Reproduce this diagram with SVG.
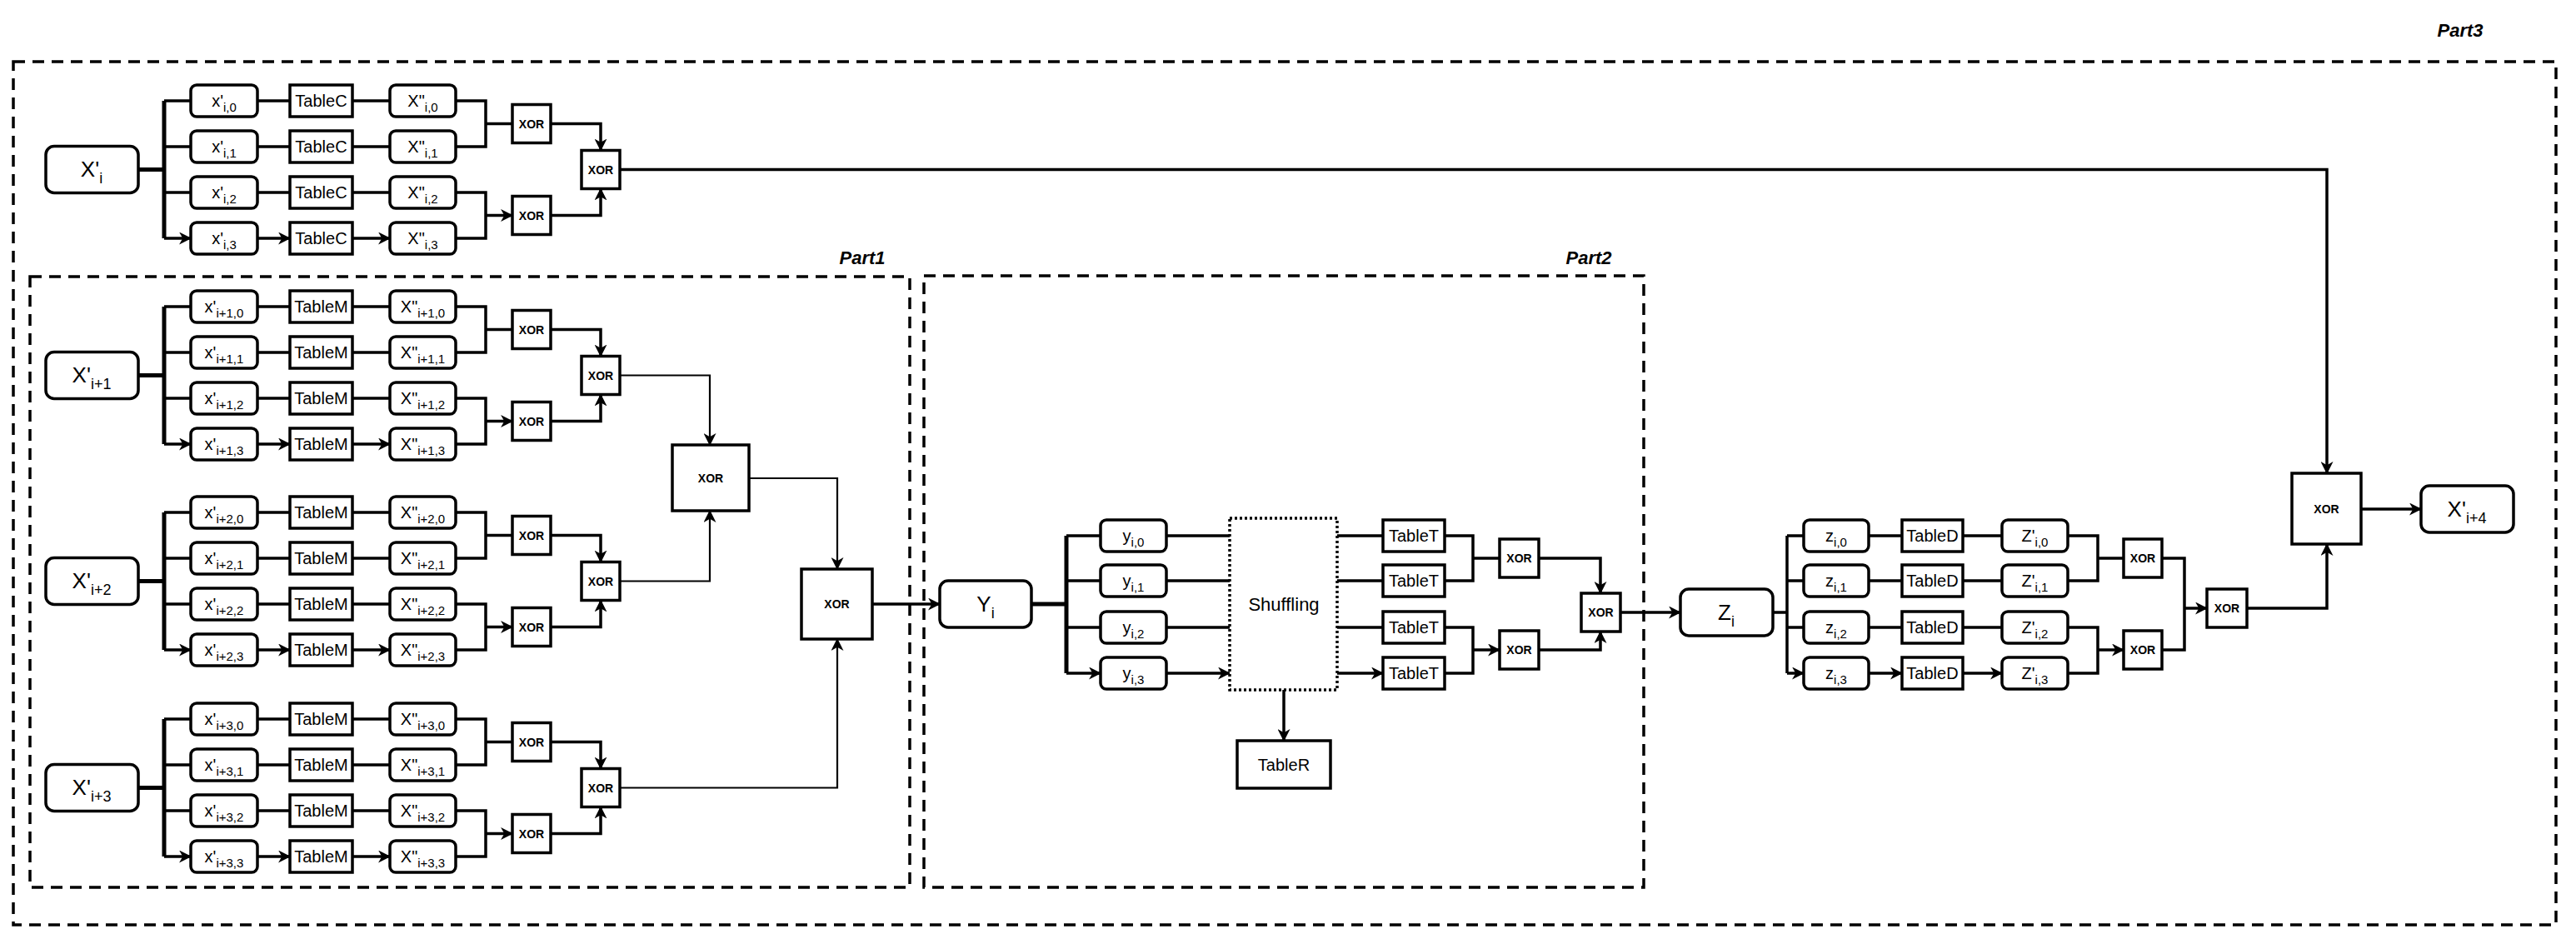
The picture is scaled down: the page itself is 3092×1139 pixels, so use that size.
<svg xmlns="http://www.w3.org/2000/svg" width="3092" height="1139" viewBox="0 0 3092 1139">
<style>
text{font-family:"Liberation Sans",Arial,sans-serif;fill:#000;text-anchor:middle}
.r{fill:#fff;stroke:#000;stroke-width:3.5}
.s{fill:#fff;stroke:#000;stroke-width:3.5}
.d{fill:none;stroke:#000;stroke-width:3.5;stroke-dasharray:14 9}
.sh{fill:#fff;stroke:#000;stroke-width:3.5;stroke-dasharray:3 3}
.t{font-size:20px}
.b{font-size:26px}
.x{font-size:14px;font-weight:bold}
.p{font-size:22px;font-weight:bold;font-style:italic}
.c{fill:none;stroke:#000;stroke-width:3.5}
.h{fill:none;stroke:#000;stroke-width:5}
.n{fill:none;stroke:#000;stroke-width:2.2}
</style>
<defs>
<marker id="a" viewBox="0 0 14 14" refX="13" refY="7" markerWidth="15" markerHeight="15" markerUnits="userSpaceOnUse" orient="auto"><path d="M0,0 L14,7 L0,14 L4,7 z"/></marker>
</defs>
<g id="frames">
<rect class="d" x="16" y="74" width="3052" height="1036"/>
<rect class="d" x="36" y="332" width="1056" height="733"/>
<rect class="d" x="1109" y="331" width="864" height="734"/>
<text class="p" x="2953" y="44">Part3</text>
<text class="p" x="1035" y="317">Part1</text>
<text class="p" x="1907" y="317">Part2</text>
</g>
<g id="connectors">
<!-- G0 -->
<path class="h" d="M166,203.5H197M197,121V286"/>
<path class="c" marker-end="url(#a)" d="M197,121H229M197,176H229M197,231H229M197,286H229"/>
<path class="c" marker-end="url(#a)" d="M309,121H348M309,176H348M309,231H348M309,286H348"/>
<path class="c" marker-end="url(#a)" d="M423,121H468M423,176H468M423,231H468M423,286H468"/>
<path class="c" d="M547,121H583V176H547M547,231H583V286H547"/>
<path class="c" marker-end="url(#a)" d="M583,148.5H615M583,258.5H615"/>
<path class="c" marker-end="url(#a)" d="M661,148.5H721V180.5"/>
<path class="c" marker-end="url(#a)" d="M661,258.5H721V226.5"/>
<!-- G1 -->
<path class="h" d="M166,450.5H197M197,368V533"/>
<path class="c" marker-end="url(#a)" d="M197,368H229M197,423H229M197,478H229M197,533H229"/>
<path class="c" marker-end="url(#a)" d="M309,368H348M309,423H348M309,478H348M309,533H348"/>
<path class="c" marker-end="url(#a)" d="M423,368H468M423,423H468M423,478H468M423,533H468"/>
<path class="c" d="M547,368H583V423H547M547,478H583V533H547"/>
<path class="c" marker-end="url(#a)" d="M583,395.5H615M583,505.5H615"/>
<path class="c" marker-end="url(#a)" d="M661,395.5H721V427.5"/>
<path class="c" marker-end="url(#a)" d="M661,505.5H721V473.5"/>
<!-- G2 -->
<path class="h" d="M166,697.5H197M197,615V780"/>
<path class="c" marker-end="url(#a)" d="M197,615H229M197,670H229M197,725H229M197,780H229"/>
<path class="c" marker-end="url(#a)" d="M309,615H348M309,670H348M309,725H348M309,780H348"/>
<path class="c" marker-end="url(#a)" d="M423,615H468M423,670H468M423,725H468M423,780H468"/>
<path class="c" d="M547,615H583V670H547M547,725H583V780H547"/>
<path class="c" marker-end="url(#a)" d="M583,642.5H615M583,752.5H615"/>
<path class="c" marker-end="url(#a)" d="M661,642.5H721V674.5"/>
<path class="c" marker-end="url(#a)" d="M661,752.5H721V720.5"/>
<!-- G3 -->
<path class="h" d="M166,945.5H197M197,863V1028"/>
<path class="c" marker-end="url(#a)" d="M197,863H229M197,918H229M197,973H229M197,1028H229"/>
<path class="c" marker-end="url(#a)" d="M309,863H348M309,918H348M309,973H348M309,1028H348"/>
<path class="c" marker-end="url(#a)" d="M423,863H468M423,918H468M423,973H468M423,1028H468"/>
<path class="c" d="M547,863H583V918H547M547,973H583V1028H547"/>
<path class="c" marker-end="url(#a)" d="M583,890.5H615M583,1000.5H615"/>
<path class="c" marker-end="url(#a)" d="M661,890.5H721V922.5"/>
<path class="c" marker-end="url(#a)" d="M661,1000.5H721V968.5"/>
<!-- Part1 combine -->
<path class="n" marker-end="url(#a)" d="M744,450.5H852V534"/>
<path class="n" marker-end="url(#a)" d="M744,697.5H852V613"/>
<path class="n" marker-end="url(#a)" d="M899,574H1005V683"/>
<path class="n" marker-end="url(#a)" d="M744,945.5H1005V767"/>
<path class="c" marker-end="url(#a)" d="M1047,725H1128"/>
<!-- Part2 -->
<path class="h" d="M1238,725H1280M1280,643V808"/>
<path class="c" marker-end="url(#a)" d="M1280,643H1321M1280,697H1321M1280,753H1321M1280,808H1321"/>
<path class="c" marker-end="url(#a)" d="M1400,643H1476M1400,697H1476M1400,753H1476M1400,808H1476"/>
<path class="c" marker-end="url(#a)" d="M1605,643H1660M1605,697H1660M1605,753H1660M1605,808H1660"/>
<path class="c" d="M1734,643H1768V697H1734M1734,753H1768V808H1734"/>
<path class="c" marker-end="url(#a)" d="M1768,670H1800M1768,780H1800"/>
<path class="c" marker-end="url(#a)" d="M1847,670H1921V712"/>
<path class="c" marker-end="url(#a)" d="M1847,780H1921V758"/>
<path class="c" marker-end="url(#a)" d="M1945,735H2017"/>
<path class="c" marker-end="url(#a)" d="M1541,828V889"/>
<!-- Part3 right -->
<path class="c" d="M2128,735H2145M2145,643V808"/>
<path class="c" marker-end="url(#a)" d="M2145,643H2165M2145,697H2165M2145,753H2165M2145,808H2165"/>
<path class="c" marker-end="url(#a)" d="M2243,643H2283M2243,697H2283M2243,753H2283M2243,808H2283"/>
<path class="c" marker-end="url(#a)" d="M2356,643H2403M2356,697H2403M2356,753H2403M2356,808H2403"/>
<path class="c" d="M2482,643H2518V697H2482M2482,753H2518V808H2482"/>
<path class="c" marker-end="url(#a)" d="M2518,670H2549M2518,780H2549"/>
<path class="c" d="M2595,670H2622V780H2595"/>
<path class="c" marker-end="url(#a)" d="M2622,730H2649"/>
<path class="c" marker-end="url(#a)" d="M2697,730H2793V653"/>
<path class="c" marker-end="url(#a)" d="M744,203.5H2793V568"/>
<path class="c" marker-end="url(#a)" d="M2834,611H2906"/>
</g>
<!-- G0 nodes -->
<g id="Xi"><rect class="r" x="55" y="175.5" width="111" height="56" rx="10"/><text class="b" x="110" y="212">X'<tspan font-size="18" dy="8">i</tspan></text></g>
<g id="x_i0"><rect class="r" x="229" y="102" width="80" height="38" rx="7"/><text class="t" x="269" y="128">x'<tspan font-size="15" dy="6">i,0</tspan></text></g>
<g id="x_i1"><rect class="r" x="229" y="157" width="80" height="38" rx="7"/><text class="t" x="269" y="183">x'<tspan font-size="15" dy="6">i,1</tspan></text></g>
<g id="x_i2"><rect class="r" x="229" y="212" width="80" height="38" rx="7"/><text class="t" x="269" y="238">x'<tspan font-size="15" dy="6">i,2</tspan></text></g>
<g id="x_i3"><rect class="r" x="229" y="267" width="80" height="38" rx="7"/><text class="t" x="269" y="293">x'<tspan font-size="15" dy="6">i,3</tspan></text></g>
<g id="TC0"><rect class="s" x="348" y="102" width="75" height="38"/><text class="t" x="385.5" y="128">TableC</text></g>
<g id="TC1"><rect class="s" x="348" y="157" width="75" height="38"/><text class="t" x="385.5" y="183">TableC</text></g>
<g id="TC2"><rect class="s" x="348" y="212" width="75" height="38"/><text class="t" x="385.5" y="238">TableC</text></g>
<g id="TC3"><rect class="s" x="348" y="267" width="75" height="38"/><text class="t" x="385.5" y="293">TableC</text></g>
<g id="X2_i0"><rect class="r" x="468" y="102" width="79" height="38" rx="7"/><text class="t" x="507.5" y="128">X"<tspan font-size="15" dy="6">i,0</tspan></text></g>
<g id="X2_i1"><rect class="r" x="468" y="157" width="79" height="38" rx="7"/><text class="t" x="507.5" y="183">X"<tspan font-size="15" dy="6">i,1</tspan></text></g>
<g id="X2_i2"><rect class="r" x="468" y="212" width="79" height="38" rx="7"/><text class="t" x="507.5" y="238">X"<tspan font-size="15" dy="6">i,2</tspan></text></g>
<g id="X2_i3"><rect class="r" x="468" y="267" width="79" height="38" rx="7"/><text class="t" x="507.5" y="293">X"<tspan font-size="15" dy="6">i,3</tspan></text></g>
<g id="xor0a"><rect class="s" x="615" y="125.5" width="46" height="46"/><text class="x" x="638" y="153.5">XOR</text></g>
<g id="xor0b"><rect class="s" x="615" y="235.5" width="46" height="46"/><text class="x" x="638" y="263.5">XOR</text></g>
<g id="xor0c"><rect class="s" x="698" y="180.5" width="46" height="46"/><text class="x" x="721" y="208.5">XOR</text></g>
<!-- G1 -->
<g id="Xi1"><rect class="r" x="55" y="422.5" width="111" height="56" rx="10"/><text class="b" x="110" y="459">X'<tspan font-size="18" dy="8">i+1</tspan></text></g>
<g id="x_10"><rect class="r" x="229" y="349" width="80" height="38" rx="7"/><text class="t" x="269" y="375">x'<tspan font-size="15" dy="6">i+1,0</tspan></text></g>
<g id="x_11"><rect class="r" x="229" y="404" width="80" height="38" rx="7"/><text class="t" x="269" y="430">x'<tspan font-size="15" dy="6">i+1,1</tspan></text></g>
<g id="x_12"><rect class="r" x="229" y="459" width="80" height="38" rx="7"/><text class="t" x="269" y="485">x'<tspan font-size="15" dy="6">i+1,2</tspan></text></g>
<g id="x_13"><rect class="r" x="229" y="514" width="80" height="38" rx="7"/><text class="t" x="269" y="540">x'<tspan font-size="15" dy="6">i+1,3</tspan></text></g>
<g id="TM10"><rect class="s" x="348" y="349" width="75" height="38"/><text class="t" x="385.5" y="375">TableM</text></g>
<g id="TM11"><rect class="s" x="348" y="404" width="75" height="38"/><text class="t" x="385.5" y="430">TableM</text></g>
<g id="TM12"><rect class="s" x="348" y="459" width="75" height="38"/><text class="t" x="385.5" y="485">TableM</text></g>
<g id="TM13"><rect class="s" x="348" y="514" width="75" height="38"/><text class="t" x="385.5" y="540">TableM</text></g>
<g id="X2_10"><rect class="r" x="468" y="349" width="79" height="38" rx="7"/><text class="t" x="507.5" y="375">X"<tspan font-size="15" dy="6">i+1,0</tspan></text></g>
<g id="X2_11"><rect class="r" x="468" y="404" width="79" height="38" rx="7"/><text class="t" x="507.5" y="430">X"<tspan font-size="15" dy="6">i+1,1</tspan></text></g>
<g id="X2_12"><rect class="r" x="468" y="459" width="79" height="38" rx="7"/><text class="t" x="507.5" y="485">X"<tspan font-size="15" dy="6">i+1,2</tspan></text></g>
<g id="X2_13"><rect class="r" x="468" y="514" width="79" height="38" rx="7"/><text class="t" x="507.5" y="540">X"<tspan font-size="15" dy="6">i+1,3</tspan></text></g>
<g id="xor1a"><rect class="s" x="615" y="372.5" width="46" height="46"/><text class="x" x="638" y="400.5">XOR</text></g>
<g id="xor1b"><rect class="s" x="615" y="482.5" width="46" height="46"/><text class="x" x="638" y="510.5">XOR</text></g>
<g id="xor1c"><rect class="s" x="698" y="427.5" width="46" height="46"/><text class="x" x="721" y="455.5">XOR</text></g>
<!-- G2 -->
<g id="Xi2"><rect class="r" x="55" y="669.5" width="111" height="56" rx="10"/><text class="b" x="110" y="706">X'<tspan font-size="18" dy="8">i+2</tspan></text></g>
<g id="x_20"><rect class="r" x="229" y="596" width="80" height="38" rx="7"/><text class="t" x="269" y="622">x'<tspan font-size="15" dy="6">i+2,0</tspan></text></g>
<g id="x_21"><rect class="r" x="229" y="651" width="80" height="38" rx="7"/><text class="t" x="269" y="677">x'<tspan font-size="15" dy="6">i+2,1</tspan></text></g>
<g id="x_22"><rect class="r" x="229" y="706" width="80" height="38" rx="7"/><text class="t" x="269" y="732">x'<tspan font-size="15" dy="6">i+2,2</tspan></text></g>
<g id="x_23"><rect class="r" x="229" y="761" width="80" height="38" rx="7"/><text class="t" x="269" y="787">x'<tspan font-size="15" dy="6">i+2,3</tspan></text></g>
<g id="TM20"><rect class="s" x="348" y="596" width="75" height="38"/><text class="t" x="385.5" y="622">TableM</text></g>
<g id="TM21"><rect class="s" x="348" y="651" width="75" height="38"/><text class="t" x="385.5" y="677">TableM</text></g>
<g id="TM22"><rect class="s" x="348" y="706" width="75" height="38"/><text class="t" x="385.5" y="732">TableM</text></g>
<g id="TM23"><rect class="s" x="348" y="761" width="75" height="38"/><text class="t" x="385.5" y="787">TableM</text></g>
<g id="X2_20"><rect class="r" x="468" y="596" width="79" height="38" rx="7"/><text class="t" x="507.5" y="622">X"<tspan font-size="15" dy="6">i+2,0</tspan></text></g>
<g id="X2_21"><rect class="r" x="468" y="651" width="79" height="38" rx="7"/><text class="t" x="507.5" y="677">X"<tspan font-size="15" dy="6">i+2,1</tspan></text></g>
<g id="X2_22"><rect class="r" x="468" y="706" width="79" height="38" rx="7"/><text class="t" x="507.5" y="732">X"<tspan font-size="15" dy="6">i+2,2</tspan></text></g>
<g id="X2_23"><rect class="r" x="468" y="761" width="79" height="38" rx="7"/><text class="t" x="507.5" y="787">X"<tspan font-size="15" dy="6">i+2,3</tspan></text></g>
<g id="xor2a"><rect class="s" x="615" y="619.5" width="46" height="46"/><text class="x" x="638" y="647.5">XOR</text></g>
<g id="xor2b"><rect class="s" x="615" y="729.5" width="46" height="46"/><text class="x" x="638" y="757.5">XOR</text></g>
<g id="xor2c"><rect class="s" x="698" y="674.5" width="46" height="46"/><text class="x" x="721" y="702.5">XOR</text></g>
<!-- G3 -->
<g id="Xi3"><rect class="r" x="55" y="917.5" width="111" height="56" rx="10"/><text class="b" x="110" y="954">X'<tspan font-size="18" dy="8">i+3</tspan></text></g>
<g id="x_30"><rect class="r" x="229" y="844" width="80" height="38" rx="7"/><text class="t" x="269" y="870">x'<tspan font-size="15" dy="6">i+3,0</tspan></text></g>
<g id="x_31"><rect class="r" x="229" y="899" width="80" height="38" rx="7"/><text class="t" x="269" y="925">x'<tspan font-size="15" dy="6">i+3,1</tspan></text></g>
<g id="x_32"><rect class="r" x="229" y="954" width="80" height="38" rx="7"/><text class="t" x="269" y="980">x'<tspan font-size="15" dy="6">i+3,2</tspan></text></g>
<g id="x_33"><rect class="r" x="229" y="1009" width="80" height="38" rx="7"/><text class="t" x="269" y="1035">x'<tspan font-size="15" dy="6">i+3,3</tspan></text></g>
<g id="TM30"><rect class="s" x="348" y="844" width="75" height="38"/><text class="t" x="385.5" y="870">TableM</text></g>
<g id="TM31"><rect class="s" x="348" y="899" width="75" height="38"/><text class="t" x="385.5" y="925">TableM</text></g>
<g id="TM32"><rect class="s" x="348" y="954" width="75" height="38"/><text class="t" x="385.5" y="980">TableM</text></g>
<g id="TM33"><rect class="s" x="348" y="1009" width="75" height="38"/><text class="t" x="385.5" y="1035">TableM</text></g>
<g id="X2_30"><rect class="r" x="468" y="844" width="79" height="38" rx="7"/><text class="t" x="507.5" y="870">X"<tspan font-size="15" dy="6">i+3,0</tspan></text></g>
<g id="X2_31"><rect class="r" x="468" y="899" width="79" height="38" rx="7"/><text class="t" x="507.5" y="925">X"<tspan font-size="15" dy="6">i+3,1</tspan></text></g>
<g id="X2_32"><rect class="r" x="468" y="954" width="79" height="38" rx="7"/><text class="t" x="507.5" y="980">X"<tspan font-size="15" dy="6">i+3,2</tspan></text></g>
<g id="X2_33"><rect class="r" x="468" y="1009" width="79" height="38" rx="7"/><text class="t" x="507.5" y="1035">X"<tspan font-size="15" dy="6">i+3,3</tspan></text></g>
<g id="xor3a"><rect class="s" x="615" y="867.5" width="46" height="46"/><text class="x" x="638" y="895.5">XOR</text></g>
<g id="xor3b"><rect class="s" x="615" y="977.5" width="46" height="46"/><text class="x" x="638" y="1005.5">XOR</text></g>
<g id="xor3c"><rect class="s" x="698" y="922.5" width="46" height="46"/><text class="x" x="721" y="950.5">XOR</text></g>
<!-- Part1 combine -->
<g id="xorP1a"><rect class="s" x="807" y="534" width="92" height="79"/><text class="x" x="853" y="579">XOR</text></g>
<g id="xorP1b"><rect class="s" x="962" y="683" width="85" height="84"/><text class="x" x="1004.5" y="730">XOR</text></g>
<!-- Part2 -->
<g id="Yi"><rect class="r" x="1128" y="697" width="110" height="56" rx="10"/><text class="b" x="1183" y="734">Y<tspan font-size="18" dy="8">i</tspan></text></g>
<g id="y0"><rect class="r" x="1321" y="624" width="79" height="38" rx="7"/><text class="t" x="1360.5" y="650">y<tspan font-size="15" dy="6">i,0</tspan></text></g>
<g id="y1"><rect class="r" x="1321" y="678" width="79" height="38" rx="7"/><text class="t" x="1360.5" y="704">y<tspan font-size="15" dy="6">i,1</tspan></text></g>
<g id="y2"><rect class="r" x="1321" y="734" width="79" height="38" rx="7"/><text class="t" x="1360.5" y="760">y<tspan font-size="15" dy="6">i,2</tspan></text></g>
<g id="y3"><rect class="r" x="1321" y="789" width="79" height="38" rx="7"/><text class="t" x="1360.5" y="815">y<tspan font-size="15" dy="6">i,3</tspan></text></g>
<g id="shuffling"><rect class="sh" x="1476" y="622" width="129" height="206"/><text x="1541" y="733" font-size="22">Shuffling</text></g>
<g id="TT0"><rect class="s" x="1660" y="624" width="74" height="38"/><text class="t" x="1697" y="650">TableT</text></g>
<g id="TT1"><rect class="s" x="1660" y="678" width="74" height="38"/><text class="t" x="1697" y="704">TableT</text></g>
<g id="TT2"><rect class="s" x="1660" y="734" width="74" height="38"/><text class="t" x="1697" y="760">TableT</text></g>
<g id="TT3"><rect class="s" x="1660" y="789" width="74" height="38"/><text class="t" x="1697" y="815">TableT</text></g>
<g id="xorP2a"><rect class="s" x="1800" y="647" width="47" height="46"/><text class="x" x="1823.5" y="675">XOR</text></g>
<g id="xorP2b"><rect class="s" x="1800" y="757" width="47" height="46"/><text class="x" x="1823.5" y="785">XOR</text></g>
<g id="xorP2c"><rect class="s" x="1898" y="712" width="47" height="46"/><text class="x" x="1921.5" y="740">XOR</text></g>
<g id="TableR"><rect class="s" x="1485" y="889" width="112" height="57"/><text class="t" x="1541" y="925">TableR</text></g>
<!-- Part3 right -->
<g id="Zi"><rect class="r" x="2017" y="707" width="111" height="56" rx="10"/><text class="b" x="2072" y="744">Z<tspan font-size="18" dy="8">i</tspan></text></g>
<g id="z0"><rect class="r" x="2165" y="624" width="78" height="38" rx="7"/><text class="t" x="2204" y="650">z<tspan font-size="15" dy="6">i,0</tspan></text></g>
<g id="z1"><rect class="r" x="2165" y="678" width="78" height="38" rx="7"/><text class="t" x="2204" y="704">z<tspan font-size="15" dy="6">i,1</tspan></text></g>
<g id="z2"><rect class="r" x="2165" y="734" width="78" height="38" rx="7"/><text class="t" x="2204" y="760">z<tspan font-size="15" dy="6">i,2</tspan></text></g>
<g id="z3"><rect class="r" x="2165" y="789" width="78" height="38" rx="7"/><text class="t" x="2204" y="815">z<tspan font-size="15" dy="6">i,3</tspan></text></g>
<g id="TD0"><rect class="s" x="2283" y="624" width="73" height="38"/><text class="t" x="2319.5" y="650">TableD</text></g>
<g id="TD1"><rect class="s" x="2283" y="678" width="73" height="38"/><text class="t" x="2319.5" y="704">TableD</text></g>
<g id="TD2"><rect class="s" x="2283" y="734" width="73" height="38"/><text class="t" x="2319.5" y="760">TableD</text></g>
<g id="TD3"><rect class="s" x="2283" y="789" width="73" height="38"/><text class="t" x="2319.5" y="815">TableD</text></g>
<g id="Zp0"><rect class="r" x="2403" y="624" width="79" height="38" rx="7"/><text class="t" x="2442.5" y="650">Z'<tspan font-size="15" dy="6">i,0</tspan></text></g>
<g id="Zp1"><rect class="r" x="2403" y="678" width="79" height="38" rx="7"/><text class="t" x="2442.5" y="704">Z'<tspan font-size="15" dy="6">i,1</tspan></text></g>
<g id="Zp2"><rect class="r" x="2403" y="734" width="79" height="38" rx="7"/><text class="t" x="2442.5" y="760">Z'<tspan font-size="15" dy="6">i,2</tspan></text></g>
<g id="Zp3"><rect class="r" x="2403" y="789" width="79" height="38" rx="7"/><text class="t" x="2442.5" y="815">Z'<tspan font-size="15" dy="6">i,3</tspan></text></g>
<g id="xorP3a"><rect class="s" x="2549" y="647" width="46" height="46"/><text class="x" x="2572" y="675">XOR</text></g>
<g id="xorP3b"><rect class="s" x="2549" y="757" width="46" height="46"/><text class="x" x="2572" y="785">XOR</text></g>
<g id="xorP3c"><rect class="s" x="2649" y="707" width="48" height="46"/><text class="x" x="2673" y="735">XOR</text></g>
<g id="xorFinal"><rect class="s" x="2751" y="568" width="83" height="85"/><text class="x" x="2792.5" y="616">XOR</text></g>
<g id="Xi4"><rect class="r" x="2906" y="583" width="111" height="56" rx="10"/><text class="b" x="2961" y="620">X'<tspan font-size="18" dy="8">i+4</tspan></text></g>
</svg>
